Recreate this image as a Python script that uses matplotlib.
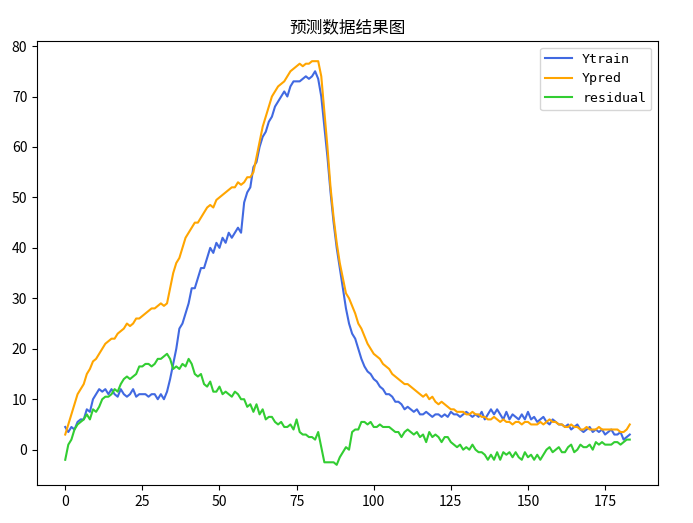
import matplotlib
matplotlib.use("Agg")
import matplotlib.pyplot as plt

plt.rcParams['font.family'] = ['Noto Sans CJK SC', 'DejaVu Sans']
plt.rcParams['axes.unicode_minus'] = False

ytrain = [4.5,3.5,4.5,4,5.5,6,6,8,7.5,10,11,
12,11.5,12,11,12,11,10.5,12,11,10.5,
11,12,10.5,11,11,11,10.5,11,11,10,11,10,11.5,
14,17,20,24,25,27,29,32,32,34,36,36,38,40,39,41,40,42,41,43,42,43,44,43,49,51,52,56,57,60,62,63,65,66,68,69,70,71,70,72,73,73,73,73.5,74,73.5,74,75,73.5,70,64,58,51,45,40,36,32,28,25,23,22,20,18,16.5,15.5,15,14,13.5,12.5,12,11,11,10.5,9.5,9.5,9,8,8.5,8,7.5,8,7,7,7.5,7,6.5,7,7,6.5,7,6.5,7.5,7,7,6.5,7,7.5,7,6.5,7,6.5,7.5,6,7,8,7,8,7,6,7.5,6,7,6.5,6,7,6,7.5,6,6.5,5.5,6,6.5,5.5,5,6,5.5,5,5,4.5,5,4,4.5,5,4,3.5,4,4.5,3.5,4,3.5,4,3,3.5,4,3,3,3.5,2,2.5,3]

ypred = [3,5,7,9,11,12,13,15,16,17.5,18,19,20,21,21.5,22,22,23,23.5,24,25,24.5,25,26,26,26.5,27,27.5,28,28,28.5,29,28.5,29,32,35,37,38,40,42,43,44,45,45,46,47,48,48.5,48,49.5,50,50.5,51,51.5,52,52,53,52.5,53,54,54,55,58,61,64,66,68,70,71,72,72.5,73,74,75,75.5,76,76.5,76,76.5,76.5,77,77,77,74,67,60,52,46,41,37,34,31,30,28.5,27,25,24,22.5,21,20,19,18.5,18,17,16.5,16,15,14.5,14,13.5,13,13,12.5,12,11.5,11,10.5,11,10,10.5,9.5,9,9.5,9,8.5,8,8,7.5,7.5,7.5,7,7,7.5,7,7,6.5,6.5,6,6,6.5,6,5.5,6,5.5,5.5,5,5.5,5.5,5,5.5,5.5,5,5,5,5.5,5,5.5,6,5.5,5.5,5,5,4.5,4.5,5,4.5,4.5,4,4,4.5,4,4,4,4.5,4,4,4,4,4,4,3.5,3.5,4,5]

residual = [-2,1,2,4,5,5.5,6,7,6,8,7.5,8.5,10,10.5,10.5,11,12,11.5,13,14,14.5,14,14.5,15,16.5,16.5,17,17,16.5,17,18,18,18.5,19,18,16,16.5,16,17,16.5,18,17,15,14.5,15,13,12.5,13.5,11.5,11.5,12.5,11,11.5,11,10.5,11.5,11,10,10,8.5,9,7.5,9,7,8,6,6.5,6.5,5.5,5,5.5,4.5,4.5,5,4,6,3.5,3,3,2.5,2.5,2,3.5,0.5,-2.5,-2.5,-2.5,-2.5,-3,-1.5,-0.5,0.5,0,3.5,4,4,5.5,5.5,5,5.5,4.5,4.5,5,4.5,4.5,4.5,4,3.5,3.5,2.5,3.5,4,3.5,3,3.5,2.5,3,1.5,3.5,2.5,3,2.5,1.5,2.5,2.5,1.5,1,0.5,1,0,0.5,0,1,0,-0.5,-0.5,-1,-2,-1,-2,-0.5,-2,-0.5,-1,-0.5,-1.5,-0.5,-1.5,-2,-0.5,-1.5,-1,-2,-1,-2,-1,0,0.5,-0.5,0,0.5,-0.5,-0.5,0.5,1,-0.5,0,1,0.5,0.5,1,0,1.5,1,1.5,1,1,1,1.5,1.5,1,1.5,2,2]

fig = plt.figure(figsize=(6.93, 5.23), dpi=100)
ax = fig.add_axes([37/693, 38/523, 621/693, 444/523])
ax.plot(list(range(len(ytrain))), ytrain, color='#4169e1', lw=1.5, label='Ytrain')
ax.plot(list(range(len(ypred))), ypred, color='#ffa500', lw=1.5, label='Ypred')
ax.plot(list(range(len(residual))), residual, color='#32cd32', lw=1.5, label='residual')
ax.set_title('预测数据结果图', fontsize=12)
ax.set_xticks([0,25,50,75,100,125,150,175])
ax.set_yticks([0,10,20,30,40,50,60,70,80])
ax.tick_params(labelsize=10)
ax.legend(loc='upper right', prop={'family': ['DejaVu Sans Mono'], 'size': 9.5})
fig.savefig('out.png', dpi=100)
